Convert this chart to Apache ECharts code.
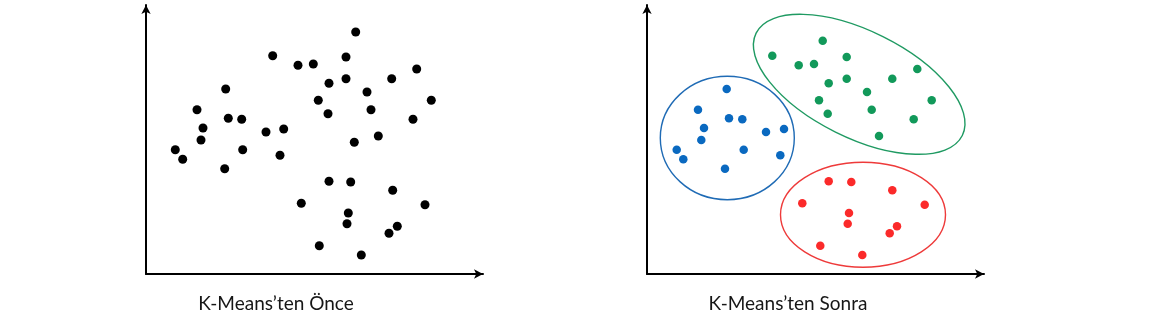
<!DOCTYPE html>
<html>
<head>
<meta charset="utf-8">
<script src="https://cdn.jsdelivr.net/npm/echarts@6/dist/echarts.min.js"></script>
<style>
html,body{margin:0;padding:0;background:#fff;}
#chart{width:1161px;height:322px;}
</style>
</head>
<body>
<div id="chart"></div>
<script>
// Panel titles
const titles = ['K-Means’ten Önce', 'K-Means’ten Sonra'];

// Points before clustering (x, y)
const beforePoints = [
  [209.7,242],[126.7,218.3],[152,208.7],[167.3,210],[200,217],[270.7,205],
  [245.7,195.3],[200,195.3],[183,190.7],[221,182],[79.7,185],[285.3,173.7],
  [172.3,173.7],[225,164.3],[182,160.3],[51,164.3],[82.3,155.7],[95.7,154.7],
  [267,154.7],[57,146],[120,142],[137.7,145],[55,134],[232.3,138],[208.3,131.7],
  [29.3,124.3],[96.7,124.3],[36.7,114.7],[134,118.7],[78.7,105.3],[183,92.7],
  [204.7,92],[246.7,83.7],[155.3,70.7],[279,69.3],[202.3,61],[201,50.3],
  [251.3,47.7],[243,40.7],[173.3,28.3],[215.3,19]
];

// Clusters after K-Means
const greenPoints = [
  [175.7,233.3],[125.3,218.3],[151.7,208.7],[167,210],[199.7,217],[270.3,205],
  [245.3,195.3],[199.7,195.3],[181.7,190.7],[220,182],[284.7,173.7],[172,173.7],
  [224.7,164.3],[180.7,160.3],[266.7,154.7],[232,138]
];
const bluePoints = [
  [79.7,185],[51,164.3],[82,155.7],[95.3,154.7],[57,146],[119,142],[137,145],
  [54.3,134],[29.7,124.3],[96.7,124.3],[36.3,114.7],[133.3,118.7],[78,105.3]
];
const redPoints = [
  [181.7,92.7],[204.3,92],[245.3,83.7],[155.3,70.7],[277.7,69.3],[202,61],
  [200.7,50.3],[250,47.7],[242.7,40.7],[173.3,28.3],[215.3,19]
];

// Cluster ellipses: [centerX, centerY, radiusX, radiusY, tiltDegrees(down-right)]
const greenEllipse = [212.2,189.7,115.1,53.3,26.4];
const blueEllipse  = [80.3,136,67,61.7,0];
const redEllipse   = [216,59.2,82.5,52.5,0];

const colors = {black:'#000000', green:'#12995a', blue:'#0a69c0', red:'#fb2a2a'};
const strokes = {green:'#1f9a62', blue:'#1f6bb5', red:'#ee3a3a'};

const chart = echarts.init(document.getElementById('chart'), null, {renderer:'canvas'});

function axisX(gridIndex){
  return {
    type:'value', gridIndex, min:0, max:337,
    axisLine:{show:true, lineStyle:{color:'#000', width:2}, symbol:['none','arrow'], symbolSize:[7,9]},
    axisTick:{show:false}, axisLabel:{show:false}, splitLine:{show:false}
  };
}
function axisY(gridIndex){
  return {
    type:'value', gridIndex, min:0, max:269,
    axisLine:{show:true, lineStyle:{color:'#000', width:2}, symbol:['none','arrow'], symbolSize:[7,9]},
    axisTick:{show:false}, axisLabel:{show:false}, splitLine:{show:false}
  };
}

function ellipseSeries(e, color){
  return {
    type:'custom', xAxisIndex:1, yAxisIndex:1, silent:true, z:1,
    data:[e],
    encode:{x:0, y:1},
    renderItem:function(params, api){
      const c = api.coord([api.value(0), api.value(1)]);
      const s = api.size([api.value(2), api.value(3)]);
      return {
        type:'ellipse',
        x:c[0], y:c[1],
        rotation: -api.value(4) * Math.PI / 180,
        shape:{cx:0, cy:0, rx:s[0], ry:s[1]},
        style:{fill:'none', stroke:color, lineWidth:1.4}
      };
    }
  };
}

function scatter(data, color, axisIdx, size){
  return {
    type:'scatter', xAxisIndex:axisIdx, yAxisIndex:axisIdx, data,
    symbolSize:size, itemStyle:{color, opacity:1}, silent:true, z:3
  };
}

const titleStyle = {fontFamily:'Lato', fontSize:19, fontWeight:'normal', color:'#161616'};

chart.setOption({
  animation:false,
  backgroundColor:'#fff',
  title:[
    {text:titles[0], left:271, top:289, textAlign:'center', textStyle:titleStyle},
    {text:titles[1], left:783, top:289, textAlign:'center', textStyle:titleStyle}
  ],
  grid:[
    {left:146, top:5, width:337, height:269},
    {left:647, top:5, width:337, height:269}
  ],
  xAxis:[axisX(0), axisX(1)],
  yAxis:[axisY(0), axisY(1)],
  series:[
    scatter(beforePoints, colors.black, 0, 9),
    ellipseSeries(greenEllipse, strokes.green),
    ellipseSeries(blueEllipse, strokes.blue),
    ellipseSeries(redEllipse, strokes.red),
    scatter(greenPoints, colors.green, 1, 8.5),
    scatter(bluePoints, colors.blue, 1, 8.5),
    scatter(redPoints, colors.red, 1, 8.5)
  ]
});
</script>
</body>
</html>
